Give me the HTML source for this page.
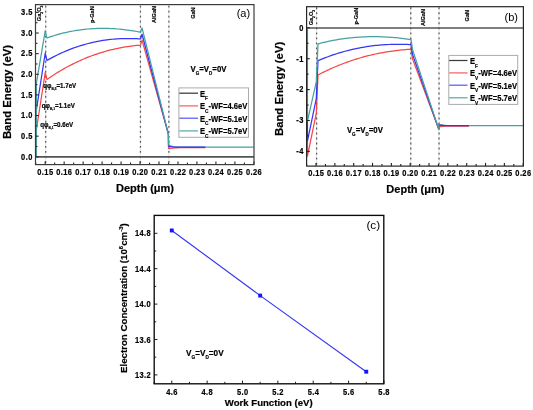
<!DOCTYPE html>
<html><head><meta charset="utf-8"><style>
html,body{margin:0;padding:0;background:#fff;}
body{width:533px;height:410px;overflow:hidden;}
svg{display:block;filter:blur(0.35px);}
</style></head><body>
<svg width="533" height="410" viewBox="0 0 533 410" font-family="'Liberation Sans', Arial, sans-serif">
<style>text[font-weight="bold"]{stroke:#000;stroke-width:0.2px;stroke-linejoin:round;paint-order:stroke}</style>
<rect width="533" height="410" fill="#fff"/>
<line x1="45.70" y1="4.60" x2="45.70" y2="164.60" stroke="#e2e2e2" stroke-width="0.9" />
<line x1="45.70" y1="4.60" x2="45.70" y2="164.60" stroke="#5a5a5a" stroke-width="1.25" stroke-dasharray="1.9 3.11" stroke-dashoffset="-1.04"/>
<line x1="140.45" y1="4.60" x2="140.45" y2="164.60" stroke="#e2e2e2" stroke-width="0.9" />
<line x1="140.45" y1="4.60" x2="140.45" y2="164.60" stroke="#5a5a5a" stroke-width="1.25" stroke-dasharray="1.9 3.11" stroke-dashoffset="-1.04"/>
<line x1="168.88" y1="4.60" x2="168.88" y2="164.60" stroke="#e2e2e2" stroke-width="0.9" />
<line x1="168.88" y1="4.60" x2="168.88" y2="164.60" stroke="#5a5a5a" stroke-width="1.25" stroke-dasharray="1.9 3.11" stroke-dashoffset="-1.04"/>
<text x="0" y="0" font-size="8.7" text-anchor="middle" font-weight="bold" fill="#000" letter-spacing="0.45" transform="translate(45.38 175.00) scale(0.86 1)">0.15</text>
<text x="0" y="0" font-size="8.7" text-anchor="middle" font-weight="bold" fill="#000" letter-spacing="0.45" transform="translate(64.35 175.00) scale(0.86 1)">0.16</text>
<text x="0" y="0" font-size="8.7" text-anchor="middle" font-weight="bold" fill="#000" letter-spacing="0.45" transform="translate(83.32 175.00) scale(0.86 1)">0.17</text>
<text x="0" y="0" font-size="8.7" text-anchor="middle" font-weight="bold" fill="#000" letter-spacing="0.45" transform="translate(102.29 175.00) scale(0.86 1)">0.18</text>
<text x="0" y="0" font-size="8.7" text-anchor="middle" font-weight="bold" fill="#000" letter-spacing="0.45" transform="translate(121.26 175.00) scale(0.86 1)">0.19</text>
<text x="0" y="0" font-size="8.7" text-anchor="middle" font-weight="bold" fill="#000" letter-spacing="0.45" transform="translate(140.23 175.00) scale(0.86 1)">0.20</text>
<text x="0" y="0" font-size="8.7" text-anchor="middle" font-weight="bold" fill="#000" letter-spacing="0.45" transform="translate(159.20 175.00) scale(0.86 1)">0.21</text>
<text x="0" y="0" font-size="8.7" text-anchor="middle" font-weight="bold" fill="#000" letter-spacing="0.45" transform="translate(178.17 175.00) scale(0.86 1)">0.22</text>
<text x="0" y="0" font-size="8.7" text-anchor="middle" font-weight="bold" fill="#000" letter-spacing="0.45" transform="translate(197.14 175.00) scale(0.86 1)">0.23</text>
<text x="0" y="0" font-size="8.7" text-anchor="middle" font-weight="bold" fill="#000" letter-spacing="0.45" transform="translate(216.11 175.00) scale(0.86 1)">0.24</text>
<text x="0" y="0" font-size="8.7" text-anchor="middle" font-weight="bold" fill="#000" letter-spacing="0.45" transform="translate(235.08 175.00) scale(0.86 1)">0.25</text>
<text x="0" y="0" font-size="8.7" text-anchor="middle" font-weight="bold" fill="#000" letter-spacing="0.45" transform="translate(254.05 175.00) scale(0.86 1)">0.26</text>
<text x="0" y="0" font-size="8.7" text-anchor="end" font-weight="bold" fill="#000" letter-spacing="0.45" transform="translate(32.69 159.60) scale(0.86 1)">0.0</text>
<text x="0" y="0" font-size="8.7" text-anchor="end" font-weight="bold" fill="#000" letter-spacing="0.45" transform="translate(32.69 138.97) scale(0.86 1)">0.5</text>
<text x="0" y="0" font-size="8.7" text-anchor="end" font-weight="bold" fill="#000" letter-spacing="0.45" transform="translate(32.69 118.34) scale(0.86 1)">1.0</text>
<text x="0" y="0" font-size="8.7" text-anchor="end" font-weight="bold" fill="#000" letter-spacing="0.45" transform="translate(32.69 97.71) scale(0.86 1)">1.5</text>
<text x="0" y="0" font-size="8.7" text-anchor="end" font-weight="bold" fill="#000" letter-spacing="0.45" transform="translate(32.69 77.08) scale(0.86 1)">2.0</text>
<text x="0" y="0" font-size="8.7" text-anchor="end" font-weight="bold" fill="#000" letter-spacing="0.45" transform="translate(32.69 56.45) scale(0.86 1)">2.5</text>
<text x="0" y="0" font-size="8.7" text-anchor="end" font-weight="bold" fill="#000" letter-spacing="0.45" transform="translate(32.69 35.82) scale(0.86 1)">3.0</text>
<text x="0" y="0" font-size="8.7" text-anchor="end" font-weight="bold" fill="#000" letter-spacing="0.45" transform="translate(32.69 15.19) scale(0.86 1)">3.5</text>
<line x1="35.50" y1="156.90" x2="254.00" y2="156.90" stroke="#545454" stroke-width="1.7" />
<polyline points="36.35,129.98 45.20,72.63 46.91,79.45 48.78,78.16 50.65,76.91 52.52,75.68 54.39,74.48 56.27,73.30 58.14,72.15 60.01,71.03 61.88,69.93 63.76,68.86 65.63,67.81 67.50,66.79 69.37,65.80 71.24,64.83 73.12,63.88 74.99,62.96 76.86,62.07 78.73,61.20 80.61,60.35 82.48,59.53 84.35,58.73 86.22,57.95 88.10,57.20 89.97,56.48 91.84,55.77 93.71,55.09 95.58,54.43 97.46,53.80 99.33,53.19 101.20,52.60 103.07,52.03 104.95,51.48 106.82,50.96 108.69,50.46 110.56,49.98 112.43,49.52 114.31,49.08 116.18,48.67 118.05,48.27 119.92,47.90 121.80,47.54 123.67,47.21 125.54,46.90 127.41,46.60 129.28,46.33 131.16,46.08 133.03,45.84 134.90,45.63 136.77,45.44 138.65,45.26 140.52,45.11 142.03,40.12 168.38,134.11 168.56,148.71" fill="none" stroke="#f84646" stroke-width="1.25" stroke-linejoin="round"/>
<polyline points="36.35,110.18 45.20,53.24 46.91,60.45 48.78,59.39 50.65,58.37 52.52,57.37 54.39,56.40 56.27,55.45 58.14,54.54 60.01,53.65 61.88,52.79 63.76,51.95 65.63,51.15 67.50,50.37 69.37,49.62 71.24,48.89 73.12,48.19 74.99,47.52 76.86,46.87 78.73,46.25 80.61,45.65 82.48,45.08 84.35,44.54 86.22,44.01 88.10,43.52 89.97,43.05 91.84,42.60 93.71,42.18 95.58,41.78 97.46,41.41 99.33,41.05 101.20,40.73 103.07,40.42 104.95,40.14 106.82,39.89 108.69,39.65 110.56,39.44 112.43,39.25 114.31,39.08 116.18,38.93 118.05,38.81 119.92,38.71 121.80,38.63 123.67,38.57 125.54,38.53 127.41,38.51 129.28,38.52 131.16,38.54 133.03,38.59 134.90,38.65 136.77,38.74 138.65,38.84 140.52,38.97 142.03,34.26 168.38,134.11 168.56,146.49" fill="none" stroke="#3535f5" stroke-width="1.25" stroke-linejoin="round"/>
<polyline points="36.35,156.80 36.35,83.36 45.20,30.96 46.91,37.98 48.78,37.33 50.65,36.70 52.52,36.10 54.39,35.52 56.27,34.96 58.14,34.43 60.01,33.92 61.88,33.43 63.76,32.97 65.63,32.53 67.50,32.11 69.37,31.72 71.24,31.34 73.12,31.00 74.99,30.67 76.86,30.36 78.73,30.08 80.61,29.82 82.48,29.58 84.35,29.37 86.22,29.17 88.10,29.00 89.97,28.85 91.84,28.71 93.71,28.60 95.58,28.51 97.46,28.44 99.33,28.40 101.20,28.37 103.07,28.36 104.95,28.37 106.82,28.40 108.69,28.45 110.56,28.53 112.43,28.62 114.31,28.73 116.18,28.86 118.05,29.00 119.92,29.17 121.80,29.36 123.67,29.56 125.54,29.79 127.41,30.03 129.28,30.29 131.16,30.57 133.03,30.86 134.90,31.17 136.77,31.51 138.65,31.85 140.52,32.22 142.03,27.90 168.38,134.11 168.56,145.04" fill="none" stroke="#46a1a1" stroke-width="1.25" stroke-linejoin="round"/>
<polyline points="168.56,145.04 169.58,145.42 170.59,145.76 171.60,146.07 172.61,146.33 173.62,146.56 174.63,146.75 175.64,146.91 176.65,147.03 177.66,147.12 178.67,147.19 179.68,147.22 180.69,147.23 253.65,147.23" fill="none" stroke="#46a1a1" stroke-width="1.25" stroke-linejoin="round"/>
<polyline points="168.56,148.71 169.58,148.54 170.59,148.39 171.60,148.25 172.61,148.13 173.62,148.03 174.63,147.94 175.64,147.87 176.65,147.81 177.66,147.77 178.67,147.74 179.68,147.73 180.69,147.72 205.33,147.72" fill="none" stroke="#f84646" stroke-width="1.25" stroke-linejoin="round"/>
<polyline points="168.56,146.49 169.58,146.61 170.59,146.73 171.60,146.83 172.61,146.92 173.62,147.00 174.63,147.07 175.64,147.12 176.65,147.16 177.66,147.19 178.67,147.21 179.68,147.22 180.69,147.23 205.33,147.23" fill="none" stroke="#3535f5" stroke-width="1.25" stroke-linejoin="round"/>
<line x1="35.70" y1="164.60" x2="35.70" y2="162.60" stroke="#262626" stroke-width="1.1" />
<line x1="45.19" y1="164.60" x2="45.19" y2="161.40" stroke="#262626" stroke-width="1.1" />
<line x1="54.67" y1="164.60" x2="54.67" y2="162.60" stroke="#262626" stroke-width="1.1" />
<line x1="64.15" y1="164.60" x2="64.15" y2="161.40" stroke="#262626" stroke-width="1.1" />
<line x1="73.64" y1="164.60" x2="73.64" y2="162.60" stroke="#262626" stroke-width="1.1" />
<line x1="83.12" y1="164.60" x2="83.12" y2="161.40" stroke="#262626" stroke-width="1.1" />
<line x1="92.61" y1="164.60" x2="92.61" y2="162.60" stroke="#262626" stroke-width="1.1" />
<line x1="102.10" y1="164.60" x2="102.10" y2="161.40" stroke="#262626" stroke-width="1.1" />
<line x1="111.58" y1="164.60" x2="111.58" y2="162.60" stroke="#262626" stroke-width="1.1" />
<line x1="121.07" y1="164.60" x2="121.07" y2="161.40" stroke="#262626" stroke-width="1.1" />
<line x1="130.55" y1="164.60" x2="130.55" y2="162.60" stroke="#262626" stroke-width="1.1" />
<line x1="140.03" y1="164.60" x2="140.03" y2="161.40" stroke="#262626" stroke-width="1.1" />
<line x1="149.52" y1="164.60" x2="149.52" y2="162.60" stroke="#262626" stroke-width="1.1" />
<line x1="159.00" y1="164.60" x2="159.00" y2="161.40" stroke="#262626" stroke-width="1.1" />
<line x1="168.49" y1="164.60" x2="168.49" y2="162.60" stroke="#262626" stroke-width="1.1" />
<line x1="177.97" y1="164.60" x2="177.97" y2="161.40" stroke="#262626" stroke-width="1.1" />
<line x1="187.46" y1="164.60" x2="187.46" y2="162.60" stroke="#262626" stroke-width="1.1" />
<line x1="196.94" y1="164.60" x2="196.94" y2="161.40" stroke="#262626" stroke-width="1.1" />
<line x1="206.43" y1="164.60" x2="206.43" y2="162.60" stroke="#262626" stroke-width="1.1" />
<line x1="215.92" y1="164.60" x2="215.92" y2="161.40" stroke="#262626" stroke-width="1.1" />
<line x1="225.40" y1="164.60" x2="225.40" y2="162.60" stroke="#262626" stroke-width="1.1" />
<line x1="234.89" y1="164.60" x2="234.89" y2="161.40" stroke="#262626" stroke-width="1.1" />
<line x1="244.37" y1="164.60" x2="244.37" y2="162.60" stroke="#262626" stroke-width="1.1" />
<line x1="253.86" y1="164.60" x2="253.86" y2="161.40" stroke="#262626" stroke-width="1.1" />
<line x1="35.50" y1="156.80" x2="38.70" y2="156.80" stroke="#262626" stroke-width="1.1" />
<line x1="35.50" y1="136.17" x2="38.70" y2="136.17" stroke="#262626" stroke-width="1.1" />
<line x1="35.50" y1="115.54" x2="38.70" y2="115.54" stroke="#262626" stroke-width="1.1" />
<line x1="35.50" y1="94.91" x2="38.70" y2="94.91" stroke="#262626" stroke-width="1.1" />
<line x1="35.50" y1="74.28" x2="38.70" y2="74.28" stroke="#262626" stroke-width="1.1" />
<line x1="35.50" y1="53.65" x2="38.70" y2="53.65" stroke="#262626" stroke-width="1.1" />
<line x1="35.50" y1="33.02" x2="38.70" y2="33.02" stroke="#262626" stroke-width="1.1" />
<line x1="35.50" y1="12.39" x2="38.70" y2="12.39" stroke="#262626" stroke-width="1.1" />
<line x1="35.50" y1="146.49" x2="37.50" y2="146.49" stroke="#262626" stroke-width="1.1" />
<line x1="35.50" y1="125.86" x2="37.50" y2="125.86" stroke="#262626" stroke-width="1.1" />
<line x1="35.50" y1="105.23" x2="37.50" y2="105.23" stroke="#262626" stroke-width="1.1" />
<line x1="35.50" y1="84.60" x2="37.50" y2="84.60" stroke="#262626" stroke-width="1.1" />
<line x1="35.50" y1="63.97" x2="37.50" y2="63.97" stroke="#262626" stroke-width="1.1" />
<line x1="35.50" y1="43.34" x2="37.50" y2="43.34" stroke="#262626" stroke-width="1.1" />
<line x1="35.50" y1="22.71" x2="37.50" y2="22.71" stroke="#262626" stroke-width="1.1" />
<rect x="35.50" y="4.60" width="218.50" height="160.00" fill="none" stroke="#3c3c3c" stroke-width="1.2"/>
<line x1="316.60" y1="6.70" x2="316.60" y2="166.10" stroke="#e2e2e2" stroke-width="0.9" />
<line x1="316.60" y1="6.70" x2="316.60" y2="166.10" stroke="#5a5a5a" stroke-width="1.25" stroke-dasharray="1.9 3.11" stroke-dashoffset="-0.64"/>
<line x1="410.78" y1="6.70" x2="410.78" y2="166.10" stroke="#e2e2e2" stroke-width="0.9" />
<line x1="410.78" y1="6.70" x2="410.78" y2="166.10" stroke="#5a5a5a" stroke-width="1.25" stroke-dasharray="1.9 3.11" stroke-dashoffset="-0.64"/>
<line x1="439.03" y1="6.70" x2="439.03" y2="166.10" stroke="#e2e2e2" stroke-width="0.9" />
<line x1="439.03" y1="6.70" x2="439.03" y2="166.10" stroke="#5a5a5a" stroke-width="1.25" stroke-dasharray="1.9 3.11" stroke-dashoffset="-0.64"/>
<text x="0" y="0" font-size="8.7" text-anchor="middle" font-weight="bold" fill="#000" letter-spacing="0.45" transform="translate(316.21 176.30) scale(0.86 1)">0.15</text>
<text x="0" y="0" font-size="8.7" text-anchor="middle" font-weight="bold" fill="#000" letter-spacing="0.45" transform="translate(335.05 176.30) scale(0.86 1)">0.16</text>
<text x="0" y="0" font-size="8.7" text-anchor="middle" font-weight="bold" fill="#000" letter-spacing="0.45" transform="translate(353.88 176.30) scale(0.86 1)">0.17</text>
<text x="0" y="0" font-size="8.7" text-anchor="middle" font-weight="bold" fill="#000" letter-spacing="0.45" transform="translate(372.72 176.30) scale(0.86 1)">0.18</text>
<text x="0" y="0" font-size="8.7" text-anchor="middle" font-weight="bold" fill="#000" letter-spacing="0.45" transform="translate(391.55 176.30) scale(0.86 1)">0.19</text>
<text x="0" y="0" font-size="8.7" text-anchor="middle" font-weight="bold" fill="#000" letter-spacing="0.45" transform="translate(410.39 176.30) scale(0.86 1)">0.20</text>
<text x="0" y="0" font-size="8.7" text-anchor="middle" font-weight="bold" fill="#000" letter-spacing="0.45" transform="translate(429.22 176.30) scale(0.86 1)">0.21</text>
<text x="0" y="0" font-size="8.7" text-anchor="middle" font-weight="bold" fill="#000" letter-spacing="0.45" transform="translate(448.06 176.30) scale(0.86 1)">0.22</text>
<text x="0" y="0" font-size="8.7" text-anchor="middle" font-weight="bold" fill="#000" letter-spacing="0.45" transform="translate(466.89 176.30) scale(0.86 1)">0.23</text>
<text x="0" y="0" font-size="8.7" text-anchor="middle" font-weight="bold" fill="#000" letter-spacing="0.45" transform="translate(485.73 176.30) scale(0.86 1)">0.24</text>
<text x="0" y="0" font-size="8.7" text-anchor="middle" font-weight="bold" fill="#000" letter-spacing="0.45" transform="translate(504.56 176.30) scale(0.86 1)">0.25</text>
<text x="0" y="0" font-size="8.7" text-anchor="middle" font-weight="bold" fill="#000" letter-spacing="0.45" transform="translate(523.40 176.30) scale(0.86 1)">0.26</text>
<text x="0" y="0" font-size="8.7" text-anchor="end" font-weight="bold" fill="#000" letter-spacing="0.45" transform="translate(303.79 30.60) scale(0.86 1)">0</text>
<text x="0" y="0" font-size="8.7" text-anchor="end" font-weight="bold" fill="#000" letter-spacing="0.45" transform="translate(303.79 61.50) scale(0.86 1)">-1</text>
<text x="0" y="0" font-size="8.7" text-anchor="end" font-weight="bold" fill="#000" letter-spacing="0.45" transform="translate(303.79 92.40) scale(0.86 1)">-2</text>
<text x="0" y="0" font-size="8.7" text-anchor="end" font-weight="bold" fill="#000" letter-spacing="0.45" transform="translate(303.79 123.30) scale(0.86 1)">-3</text>
<text x="0" y="0" font-size="8.7" text-anchor="end" font-weight="bold" fill="#000" letter-spacing="0.45" transform="translate(303.79 154.20) scale(0.86 1)">-4</text>
<line x1="306.60" y1="28.00" x2="523.40" y2="28.00" stroke="#545454" stroke-width="1.7" />
<polyline points="307.45,141.20 307.45,156.03 316.30,113.08 318.00,74.93 319.86,73.97 321.72,73.03 323.58,72.11 325.44,71.21 327.30,70.33 329.16,69.47 331.02,68.62 332.88,67.80 334.74,67.00 336.60,66.22 338.47,65.45 340.33,64.71 342.19,63.98 344.05,63.27 345.91,62.58 347.77,61.91 349.63,61.26 351.49,60.63 353.35,60.01 355.21,59.41 357.07,58.83 358.93,58.27 360.80,57.73 362.66,57.20 364.52,56.69 366.38,56.20 368.24,55.72 370.10,55.26 371.96,54.82 373.82,54.40 375.68,53.99 377.54,53.59 379.40,53.22 381.27,52.86 383.13,52.52 384.99,52.19 386.85,51.88 388.71,51.58 390.57,51.30 392.43,51.04 394.29,50.79 396.15,50.55 398.01,50.33 399.87,50.13 401.74,49.94 403.60,49.76 405.46,49.60 407.32,49.46 409.18,49.33 411.04,49.21 412.55,58.76 438.73,129.15 438.92,126.80" fill="none" stroke="#f84646" stroke-width="1.25" stroke-linejoin="round"/>
<polyline points="307.45,121.12 307.45,141.20 316.30,98.56 318.00,60.70 319.86,59.91 321.72,59.14 323.58,58.39 325.44,57.67 327.30,56.96 329.16,56.27 331.02,55.61 332.88,54.96 334.74,54.34 336.60,53.74 338.47,53.15 340.33,52.59 342.19,52.05 344.05,51.52 345.91,51.02 347.77,50.53 349.63,50.07 351.49,49.62 353.35,49.19 355.21,48.78 357.07,48.39 358.93,48.02 360.80,47.67 362.66,47.34 364.52,47.02 366.38,46.72 368.24,46.44 370.10,46.18 371.96,45.93 373.82,45.70 375.68,45.49 377.54,45.30 379.40,45.13 381.27,44.97 383.13,44.82 384.99,44.70 386.85,44.59 388.71,44.50 390.57,44.42 392.43,44.36 394.29,44.32 396.15,44.29 398.01,44.27 399.87,44.28 401.74,44.30 403.60,44.33 405.46,44.38 407.32,44.44 409.18,44.52 411.04,44.61 412.55,54.37 438.73,129.15 438.92,125.13" fill="none" stroke="#3535f5" stroke-width="1.25" stroke-linejoin="round"/>
<polyline points="307.45,27.80 307.45,121.12 316.30,81.88 318.00,43.88 319.86,43.39 321.72,42.92 323.58,42.46 325.44,42.03 327.30,41.61 329.16,41.21 331.02,40.83 332.88,40.47 334.74,40.12 336.60,39.79 338.47,39.48 340.33,39.18 342.19,38.91 344.05,38.64 345.91,38.40 347.77,38.17 349.63,37.96 351.49,37.77 353.35,37.59 355.21,37.42 357.07,37.28 358.93,37.15 360.80,37.03 362.66,36.93 364.52,36.85 366.38,36.78 368.24,36.73 370.10,36.70 371.96,36.68 373.82,36.67 375.68,36.68 377.54,36.70 379.40,36.74 381.27,36.79 383.13,36.86 384.99,36.94 386.85,37.04 388.71,37.15 390.57,37.28 392.43,37.42 394.29,37.57 396.15,37.74 398.01,37.92 399.87,38.11 401.74,38.32 403.60,38.54 405.46,38.78 407.32,39.03 409.18,39.29 411.04,39.56 412.55,49.62 438.73,129.15 438.92,124.05" fill="none" stroke="#46a1a1" stroke-width="1.25" stroke-linejoin="round"/>
<polyline points="438.92,124.05 439.92,124.34 440.92,124.59 441.93,124.82 442.93,125.02 443.94,125.19 444.94,125.33 445.95,125.45 446.95,125.55 447.96,125.61 448.96,125.66 449.97,125.68 450.97,125.69 523.49,125.69" fill="none" stroke="#46a1a1" stroke-width="1.25" stroke-linejoin="round"/>
<polyline points="438.92,126.80 439.92,126.67 440.92,126.56 441.93,126.46 442.93,126.37 443.94,126.29 444.94,126.22 445.95,126.17 446.95,126.13 447.96,126.10 448.96,126.08 449.97,126.07 450.97,126.06 468.86,126.06" fill="none" stroke="#f84646" stroke-width="1.25" stroke-linejoin="round"/>
<polyline points="438.92,125.13 439.92,125.23 440.92,125.32 441.93,125.40 442.93,125.46 443.94,125.52 444.94,125.57 445.95,125.61 446.95,125.64 447.96,125.66 448.96,125.68 449.97,125.69 450.97,125.69 468.86,125.69" fill="none" stroke="#3535f5" stroke-width="1.25" stroke-linejoin="round"/>
<line x1="306.60" y1="166.10" x2="306.60" y2="164.10" stroke="#1e1e1e" stroke-width="1.1" />
<line x1="316.02" y1="166.10" x2="316.02" y2="162.90" stroke="#1e1e1e" stroke-width="1.1" />
<line x1="325.44" y1="166.10" x2="325.44" y2="164.10" stroke="#1e1e1e" stroke-width="1.1" />
<line x1="334.85" y1="166.10" x2="334.85" y2="162.90" stroke="#1e1e1e" stroke-width="1.1" />
<line x1="344.27" y1="166.10" x2="344.27" y2="164.10" stroke="#1e1e1e" stroke-width="1.1" />
<line x1="353.69" y1="166.10" x2="353.69" y2="162.90" stroke="#1e1e1e" stroke-width="1.1" />
<line x1="363.11" y1="166.10" x2="363.11" y2="164.10" stroke="#1e1e1e" stroke-width="1.1" />
<line x1="372.52" y1="166.10" x2="372.52" y2="162.90" stroke="#1e1e1e" stroke-width="1.1" />
<line x1="381.94" y1="166.10" x2="381.94" y2="164.10" stroke="#1e1e1e" stroke-width="1.1" />
<line x1="391.36" y1="166.10" x2="391.36" y2="162.90" stroke="#1e1e1e" stroke-width="1.1" />
<line x1="400.78" y1="166.10" x2="400.78" y2="164.10" stroke="#1e1e1e" stroke-width="1.1" />
<line x1="410.19" y1="166.10" x2="410.19" y2="162.90" stroke="#1e1e1e" stroke-width="1.1" />
<line x1="419.61" y1="166.10" x2="419.61" y2="164.10" stroke="#1e1e1e" stroke-width="1.1" />
<line x1="429.03" y1="166.10" x2="429.03" y2="162.90" stroke="#1e1e1e" stroke-width="1.1" />
<line x1="438.45" y1="166.10" x2="438.45" y2="164.10" stroke="#1e1e1e" stroke-width="1.1" />
<line x1="447.86" y1="166.10" x2="447.86" y2="162.90" stroke="#1e1e1e" stroke-width="1.1" />
<line x1="457.28" y1="166.10" x2="457.28" y2="164.10" stroke="#1e1e1e" stroke-width="1.1" />
<line x1="466.70" y1="166.10" x2="466.70" y2="162.90" stroke="#1e1e1e" stroke-width="1.1" />
<line x1="476.12" y1="166.10" x2="476.12" y2="164.10" stroke="#1e1e1e" stroke-width="1.1" />
<line x1="485.53" y1="166.10" x2="485.53" y2="162.90" stroke="#1e1e1e" stroke-width="1.1" />
<line x1="494.95" y1="166.10" x2="494.95" y2="164.10" stroke="#1e1e1e" stroke-width="1.1" />
<line x1="504.37" y1="166.10" x2="504.37" y2="162.90" stroke="#1e1e1e" stroke-width="1.1" />
<line x1="513.79" y1="166.10" x2="513.79" y2="164.10" stroke="#1e1e1e" stroke-width="1.1" />
<line x1="523.20" y1="166.10" x2="523.20" y2="162.90" stroke="#1e1e1e" stroke-width="1.1" />
<line x1="306.60" y1="27.80" x2="309.80" y2="27.80" stroke="#1e1e1e" stroke-width="1.1" />
<line x1="306.60" y1="58.70" x2="309.80" y2="58.70" stroke="#1e1e1e" stroke-width="1.1" />
<line x1="306.60" y1="89.60" x2="309.80" y2="89.60" stroke="#1e1e1e" stroke-width="1.1" />
<line x1="306.60" y1="120.50" x2="309.80" y2="120.50" stroke="#1e1e1e" stroke-width="1.1" />
<line x1="306.60" y1="151.40" x2="309.80" y2="151.40" stroke="#1e1e1e" stroke-width="1.1" />
<line x1="306.60" y1="43.25" x2="308.60" y2="43.25" stroke="#1e1e1e" stroke-width="1.1" />
<line x1="306.60" y1="74.15" x2="308.60" y2="74.15" stroke="#1e1e1e" stroke-width="1.1" />
<line x1="306.60" y1="105.05" x2="308.60" y2="105.05" stroke="#1e1e1e" stroke-width="1.1" />
<line x1="306.60" y1="135.95" x2="308.60" y2="135.95" stroke="#1e1e1e" stroke-width="1.1" />
<rect x="306.60" y="6.70" width="216.80" height="159.40" fill="none" stroke="#262626" stroke-width="1.2"/>
<line x1="154.10" y1="383.80" x2="154.10" y2="381.80" stroke="#1e1e1e" stroke-width="1" />
<line x1="171.78" y1="383.80" x2="171.78" y2="380.60" stroke="#1e1e1e" stroke-width="1" />
<line x1="189.46" y1="383.80" x2="189.46" y2="381.80" stroke="#1e1e1e" stroke-width="1" />
<line x1="207.14" y1="383.80" x2="207.14" y2="380.60" stroke="#1e1e1e" stroke-width="1" />
<line x1="224.82" y1="383.80" x2="224.82" y2="381.80" stroke="#1e1e1e" stroke-width="1" />
<line x1="242.50" y1="383.80" x2="242.50" y2="380.60" stroke="#1e1e1e" stroke-width="1" />
<line x1="260.18" y1="383.80" x2="260.18" y2="381.80" stroke="#1e1e1e" stroke-width="1" />
<line x1="277.86" y1="383.80" x2="277.86" y2="380.60" stroke="#1e1e1e" stroke-width="1" />
<line x1="295.54" y1="383.80" x2="295.54" y2="381.80" stroke="#1e1e1e" stroke-width="1" />
<line x1="313.22" y1="383.80" x2="313.22" y2="380.60" stroke="#1e1e1e" stroke-width="1" />
<line x1="330.90" y1="383.80" x2="330.90" y2="381.80" stroke="#1e1e1e" stroke-width="1" />
<line x1="348.58" y1="383.80" x2="348.58" y2="380.60" stroke="#1e1e1e" stroke-width="1" />
<line x1="366.26" y1="383.80" x2="366.26" y2="381.80" stroke="#1e1e1e" stroke-width="1" />
<line x1="383.94" y1="383.80" x2="383.94" y2="380.60" stroke="#1e1e1e" stroke-width="1" />
<text x="0" y="0" font-size="8.7" text-anchor="middle" font-weight="bold" fill="#000" letter-spacing="0.45" transform="translate(171.97 394.80) scale(0.86 1)">4.6</text>
<text x="0" y="0" font-size="8.7" text-anchor="middle" font-weight="bold" fill="#000" letter-spacing="0.45" transform="translate(207.33 394.80) scale(0.86 1)">4.8</text>
<text x="0" y="0" font-size="8.7" text-anchor="middle" font-weight="bold" fill="#000" letter-spacing="0.45" transform="translate(242.69 394.80) scale(0.86 1)">5.0</text>
<text x="0" y="0" font-size="8.7" text-anchor="middle" font-weight="bold" fill="#000" letter-spacing="0.45" transform="translate(278.05 394.80) scale(0.86 1)">5.2</text>
<text x="0" y="0" font-size="8.7" text-anchor="middle" font-weight="bold" fill="#000" letter-spacing="0.45" transform="translate(313.41 394.80) scale(0.86 1)">5.4</text>
<text x="0" y="0" font-size="8.7" text-anchor="middle" font-weight="bold" fill="#000" letter-spacing="0.45" transform="translate(348.77 394.80) scale(0.86 1)">5.6</text>
<text x="0" y="0" font-size="8.7" text-anchor="middle" font-weight="bold" fill="#000" letter-spacing="0.45" transform="translate(384.13 394.80) scale(0.86 1)">5.8</text>
<line x1="154.20" y1="374.90" x2="157.40" y2="374.90" stroke="#1e1e1e" stroke-width="1" />
<text x="0" y="0" font-size="8.7" text-anchor="end" font-weight="bold" fill="#000" letter-spacing="0.45" transform="translate(150.99 378.00) scale(0.86 1)">13.2</text>
<line x1="154.20" y1="357.20" x2="156.20" y2="357.20" stroke="#1e1e1e" stroke-width="1" />
<line x1="154.20" y1="339.50" x2="157.40" y2="339.50" stroke="#1e1e1e" stroke-width="1" />
<text x="0" y="0" font-size="8.7" text-anchor="end" font-weight="bold" fill="#000" letter-spacing="0.45" transform="translate(150.99 342.60) scale(0.86 1)">13.6</text>
<line x1="154.20" y1="321.80" x2="156.20" y2="321.80" stroke="#1e1e1e" stroke-width="1" />
<line x1="154.20" y1="304.10" x2="157.40" y2="304.10" stroke="#1e1e1e" stroke-width="1" />
<text x="0" y="0" font-size="8.7" text-anchor="end" font-weight="bold" fill="#000" letter-spacing="0.45" transform="translate(150.99 307.20) scale(0.86 1)">14.0</text>
<line x1="154.20" y1="286.40" x2="156.20" y2="286.40" stroke="#1e1e1e" stroke-width="1" />
<line x1="154.20" y1="268.70" x2="157.40" y2="268.70" stroke="#1e1e1e" stroke-width="1" />
<text x="0" y="0" font-size="8.7" text-anchor="end" font-weight="bold" fill="#000" letter-spacing="0.45" transform="translate(150.99 271.80) scale(0.86 1)">14.4</text>
<line x1="154.20" y1="251.00" x2="156.20" y2="251.00" stroke="#1e1e1e" stroke-width="1" />
<line x1="154.20" y1="233.30" x2="157.40" y2="233.30" stroke="#1e1e1e" stroke-width="1" />
<text x="0" y="0" font-size="8.7" text-anchor="end" font-weight="bold" fill="#000" letter-spacing="0.45" transform="translate(150.99 236.40) scale(0.86 1)">14.8</text>
<rect x="154.20" y="215.40" width="229.60" height="168.40" fill="none" stroke="#0a0a0a" stroke-width="1.35"/>
<polyline points="171.78,230.47 260.18,295.60 366.26,371.71" fill="none" stroke="#3535f5" stroke-width="1.15" stroke-linejoin="round"/>
<rect x="169.83" y="228.52" width="3.9" height="3.9" fill="#1414ff"/>
<rect x="258.23" y="293.65" width="3.9" height="3.9" fill="#1414ff"/>
<rect x="364.31" y="369.76" width="3.9" height="3.9" fill="#1414ff"/>
<text x="0" y="0" font-size="11.3" text-anchor="middle" font-weight="bold" fill="#000" transform="translate(11.20 92.00) rotate(-90)">Band Energy (eV)</text>
<text x="145.00" y="191.90" font-size="11" text-anchor="middle" font-weight="bold" fill="#000">Depth (&#956;m)</text>
<text x="0" y="0" font-size="11.3" text-anchor="middle" font-weight="bold" fill="#000" transform="translate(283.40 88.90) rotate(-90)">Band Energy (eV)</text>
<text x="415.40" y="192.50" font-size="11" text-anchor="middle" font-weight="bold" fill="#000">Depth (&#956;m)</text>
<text x="268.70" y="406.40" font-size="9.6" text-anchor="middle" font-weight="bold" fill="#000">Work Function (eV)</text>
<text x="0" y="0" font-size="9.7" text-anchor="middle" font-weight="bold" transform="translate(126.90 298.10) rotate(-90)"><tspan dy="-0.00">Electron Concentration (10</tspan><tspan dy="-3.88" font-size="6.01">6</tspan><tspan dy="3.88">cm</tspan><tspan dy="-3.88" font-size="6.01">-3</tspan><tspan dy="3.88">)</tspan></text>
<text x="243.40" y="16.90" font-size="11" text-anchor="middle" font-weight="normal" fill="#000">(a)</text>
<text x="511.30" y="20.80" font-size="11" text-anchor="middle" font-weight="normal" fill="#000">(b)</text>
<text x="373.30" y="228.50" font-size="11.8" text-anchor="middle" font-weight="normal" fill="#000">(c)</text>
<text x="0" y="0" font-size="8.6" text-anchor="start" font-weight="bold" transform="translate(190.50 72.20) scale(0.91 1)"><tspan dy="-0.00">V</tspan><tspan dy="3.27" font-size="4.99">G</tspan><tspan dy="-3.27">=V</tspan><tspan dy="3.27" font-size="4.99">D</tspan><tspan dy="-3.27">=0V</tspan></text>
<text x="0" y="0" font-size="8.6" text-anchor="start" font-weight="bold" transform="translate(346.90 132.80) scale(0.91 1)"><tspan dy="-0.00">V</tspan><tspan dy="3.27" font-size="4.99">G</tspan><tspan dy="-3.27">=V</tspan><tspan dy="3.27" font-size="4.99">D</tspan><tspan dy="-3.27">=0V</tspan></text>
<text x="0" y="0" font-size="9.0" text-anchor="start" font-weight="bold" transform="translate(186.00 356.00) scale(0.91 1)"><tspan dy="-0.00">V</tspan><tspan dy="3.42" font-size="5.22">G</tspan><tspan dy="-3.42">=V</tspan><tspan dy="3.42" font-size="5.22">D</tspan><tspan dy="-3.42">=0V</tspan></text>
<text x="0" y="0" font-size="6.9" text-anchor="start" font-weight="bold" transform="translate(43.20 87.60) scale(0.9 1)"><tspan dy="-0.00">q&#966;</tspan><tspan dy="2.48" font-size="3.59">B,5</tspan><tspan dy="-2.48">=1.7eV</tspan></text>
<text x="0" y="0" font-size="6.9" text-anchor="start" font-weight="bold" transform="translate(41.80 108.00) scale(0.9 1)"><tspan dy="-0.00">q&#966;</tspan><tspan dy="2.48" font-size="3.59">B,1</tspan><tspan dy="-2.48">=1.1eV</tspan></text>
<text x="0" y="0" font-size="6.9" text-anchor="start" font-weight="bold" transform="translate(40.20 127.00) scale(0.9 1)"><tspan dy="-0.00">q&#966;</tspan><tspan dy="2.48" font-size="3.59">B,1</tspan><tspan dy="-2.48">=0.6eV</tspan></text>
<text x="0" y="0" font-size="6.1" text-anchor="end" font-weight="bold" transform="translate(41.30 5.60) rotate(-90) scale(0.91 1)"><tspan dy="-0.00">Ga</tspan><tspan dy="1.83" font-size="3.78">2</tspan><tspan dy="-1.83">O</tspan><tspan dy="1.83" font-size="3.78">3</tspan></text>
<text x="0" y="0" font-size="6.1" text-anchor="end" font-weight="bold" transform="translate(93.60 6.30) rotate(-90) scale(0.91 1)"><tspan dy="-0.00">p-GaN</tspan></text>
<text x="0" y="0" font-size="6.1" text-anchor="end" font-weight="bold" transform="translate(156.00 6.00) rotate(-90) scale(0.91 1)"><tspan dy="-0.00">AlGaN</tspan></text>
<text x="0" y="0" font-size="6.1" text-anchor="end" font-weight="bold" transform="translate(194.60 7.40) rotate(-90) scale(0.91 1)"><tspan dy="-0.00">GaN</tspan></text>
<text x="0" y="0" font-size="6.1" text-anchor="end" font-weight="bold" transform="translate(312.80 9.80) rotate(-90) scale(0.91 1)"><tspan dy="-0.00">Ga</tspan><tspan dy="1.83" font-size="3.78">2</tspan><tspan dy="-1.83">O</tspan><tspan dy="1.83" font-size="3.78">3</tspan></text>
<text x="0" y="0" font-size="6.1" text-anchor="end" font-weight="bold" transform="translate(358.00 7.80) rotate(-90) scale(0.91 1)"><tspan dy="-0.00">p-GaN</tspan></text>
<text x="0" y="0" font-size="6.1" text-anchor="end" font-weight="bold" transform="translate(424.60 9.10) rotate(-90) scale(0.91 1)"><tspan dy="-0.00">AlGaN</tspan></text>
<text x="0" y="0" font-size="6.1" text-anchor="end" font-weight="bold" transform="translate(469.30 10.00) rotate(-90) scale(0.91 1)"><tspan dy="-0.00">GaN</tspan></text>
<rect x="178.90" y="87.90" width="69.60" height="49.40" fill="#fff" stroke="#ababab" stroke-width="1"/>
<line x1="179.30" y1="93.20" x2="198.00" y2="93.20" stroke="#3a3a3a" stroke-width="1.25" />
<text x="0" y="0" font-size="8.8" text-anchor="start" font-weight="bold" transform="translate(200.00 96.70) scale(0.87 1)"><tspan dy="-0.00">E</tspan><tspan dy="3.52" font-size="5.46">F</tspan></text>
<line x1="179.30" y1="105.90" x2="198.00" y2="105.90" stroke="#f76060" stroke-width="1.25" />
<text x="0" y="0" font-size="8.8" text-anchor="start" font-weight="bold" transform="translate(200.00 109.40) scale(0.87 1)"><tspan dy="-0.00">E</tspan><tspan dy="3.52" font-size="5.46">C</tspan><tspan dy="-3.52">-WF=4.6eV</tspan></text>
<line x1="179.30" y1="118.20" x2="198.00" y2="118.20" stroke="#5a5af8" stroke-width="1.25" />
<text x="0" y="0" font-size="8.8" text-anchor="start" font-weight="bold" transform="translate(200.00 121.70) scale(0.87 1)"><tspan dy="-0.00">E</tspan><tspan dy="3.52" font-size="5.46">C</tspan><tspan dy="-3.52">-WF=5.1eV</tspan></text>
<line x1="179.30" y1="130.90" x2="198.00" y2="130.90" stroke="#5aabab" stroke-width="1.25" />
<text x="0" y="0" font-size="8.8" text-anchor="start" font-weight="bold" transform="translate(200.00 134.40) scale(0.87 1)"><tspan dy="-0.00">E</tspan><tspan dy="3.52" font-size="5.46">C</tspan><tspan dy="-3.52">-WF=5.7eV</tspan></text>
<rect x="448.80" y="55.40" width="68.90" height="49.00" fill="#fff" stroke="#ababab" stroke-width="1"/>
<line x1="449.20" y1="60.50" x2="467.50" y2="60.50" stroke="#3a3a3a" stroke-width="1.25" />
<text x="0" y="0" font-size="8.8" text-anchor="start" font-weight="bold" transform="translate(470.00 64.00) scale(0.87 1)"><tspan dy="-0.00">E</tspan><tspan dy="3.52" font-size="5.46">F</tspan></text>
<line x1="449.20" y1="72.90" x2="467.50" y2="72.90" stroke="#f76060" stroke-width="1.25" />
<text x="0" y="0" font-size="8.8" text-anchor="start" font-weight="bold" transform="translate(470.00 76.40) scale(0.87 1)"><tspan dy="-0.00">E</tspan><tspan dy="3.52" font-size="5.46">V</tspan><tspan dy="-3.52">-WF=4.6eV</tspan></text>
<line x1="449.20" y1="85.20" x2="467.50" y2="85.20" stroke="#5a5af8" stroke-width="1.25" />
<text x="0" y="0" font-size="8.8" text-anchor="start" font-weight="bold" transform="translate(470.00 88.70) scale(0.87 1)"><tspan dy="-0.00">E</tspan><tspan dy="3.52" font-size="5.46">V</tspan><tspan dy="-3.52">-WF=5.1eV</tspan></text>
<line x1="449.20" y1="97.80" x2="467.50" y2="97.80" stroke="#5aabab" stroke-width="1.25" />
<text x="0" y="0" font-size="8.8" text-anchor="start" font-weight="bold" transform="translate(470.00 101.30) scale(0.87 1)"><tspan dy="-0.00">E</tspan><tspan dy="3.52" font-size="5.46">V</tspan><tspan dy="-3.52">-WF=5.7eV</tspan></text>
</svg>
</body></html>
